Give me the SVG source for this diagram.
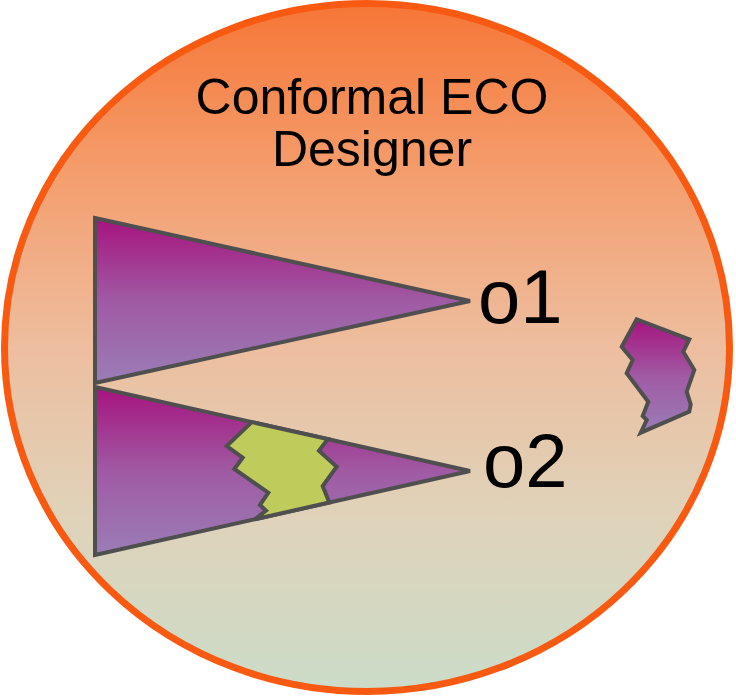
<svg xmlns="http://www.w3.org/2000/svg" width="736" height="696" viewBox="0 0 736 696">
  <defs>
    <linearGradient id="bgGrad" x1="0" y1="0" x2="0" y2="1">
      <stop offset="0" stop-color="#F67636"/>
      <stop offset="0.25" stop-color="#F49E6E"/>
      <stop offset="0.5" stop-color="#EDBE9F"/>
      <stop offset="0.75" stop-color="#DFD3BA"/>
      <stop offset="1" stop-color="#CBDCC8"/>
    </linearGradient>
    <linearGradient id="purpleGrad" x1="0" y1="0" x2="0" y2="1">
      <stop offset="0" stop-color="#A6137E"/>
      <stop offset="0.5" stop-color="#A05AA3"/>
      <stop offset="1" stop-color="#9A7DB7"/>
    </linearGradient>
    <style>
      .shape { fill: url(#purpleGrad); stroke: #4F4F4F; stroke-width: 4; stroke-linejoin: miter; }
      .patch { fill: #BFCB5A; stroke: #4F4F4F; stroke-width: 4; stroke-linejoin: miter; }
      .title { font-family: "Liberation Sans", Arial, sans-serif; font-size: 50px; fill: #000000; text-anchor: middle; }
      .label { font-family: "Liberation Sans", Arial, sans-serif; font-size: 76px; fill: #000000; }
    </style>
  </defs>

  <g id="background">
    <ellipse cx="367" cy="347.5" rx="362.5" ry="344" fill="url(#bgGrad)" stroke="#F85A12" stroke-width="7"/>
    <text class="title" x="372" y="114">Conformal ECO</text>
    <text class="title" x="372" y="166">Designer</text>
  </g>

  <g id="connectors"></g>

  <g id="node-o1">
    <polygon class="shape" points="95,218 470,301 95,383"/>
    <text class="label" x="478" y="323">o1</text>
  </g>

  <g id="node-o2">
    <polygon class="shape" points="95,387 470,471 95,555"/>
    <polygon class="patch" points="251.7,422.1 327.7,439.1 319,450.7 336.7,466.7 322.7,486 329.3,502.5 255,519.2 266,510.7 260,505 268.3,492.7 234.3,469 242.7,457.7 226.7,446"/>
    <text class="label" x="483" y="487">o2</text>
  </g>

  <g id="node-fragment">
    <polygon class="shape" points="636.7,319.3 689.3,339.3 683.3,351.7 694.3,370 686.7,391.7 690.7,404.3 689.3,411.7 640.7,432.7 646.7,420 642.7,416 648.3,401.7 626.7,373.3 632.7,360 621.7,346.7"/>
  </g>
</svg>
